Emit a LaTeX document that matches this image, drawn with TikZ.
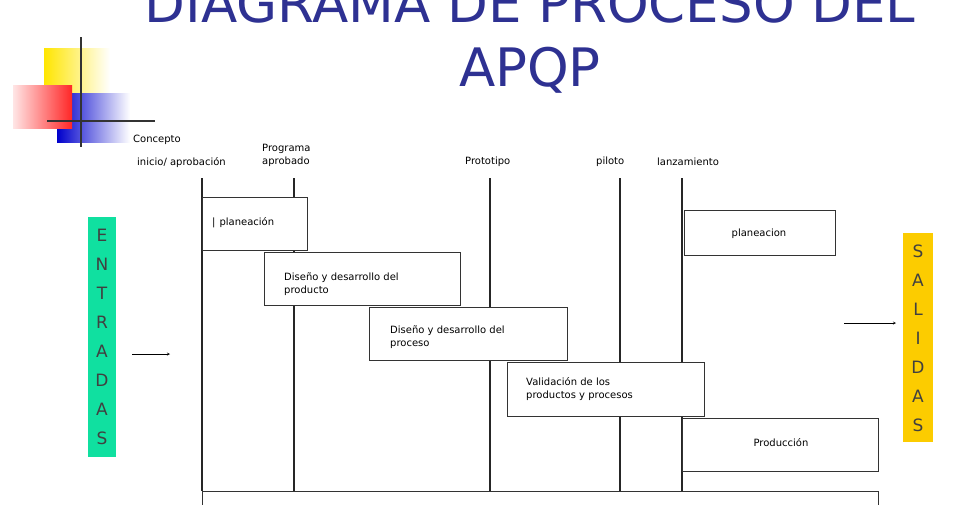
\documentclass[tikz,border=0pt]{standalone}
\usepackage{fontspec}
\setmainfont{DejaVu Sans}
\definecolor{titleblue}{RGB}{46,49,146}
\definecolor{entgreen}{RGB}{16,224,160}
\definecolor{salyellow}{RGB}{252,204,0}
\begin{document}
\begin{tikzpicture}[x=1pt,y=-1pt,
  box/.style={draw=black!80,line width=1pt,fill=white},
  vl/.style={line width=1.6pt,black!85},
  lbl/.style={font=\fontsize{10}{13}\selectfont,anchor=west,align=left,inner sep=0},
  side/.style={font=\fontsize{17}{29}\selectfont,align=center,inner sep=0,text=black!75}]
\useasboundingbox (0,0) rectangle (960,504);
\fill[white] (0,0) rectangle (960,504);
% logo
\shade[left color=yellow!80!orange,right color=white] (44,48) rectangle (110,95);
\shade[left color=blue!80!black,right color=white] (57,93) rectangle (130,142);
\shade[left color=red!10,right color=red!85] (13,85) rectangle (72,128);
\draw[line width=1.5pt,black!80] (81,37) -- (81,147);
\draw[line width=1.5pt,black!80] (47,121) -- (155,121);
% title
\node[text=titleblue,font=\fontsize{53}{60}\selectfont,align=center] (t1) at (530,3) {DIAGRAMA DE PROCESO DEL};
\node[text=titleblue,font=\fontsize{53}{60}\selectfont] (t2) at (530,70) {APQP};
% labels
\node[lbl] (l1) at (133,140) {Concepto};
\node[lbl] (l2) at (137,163) {inicio/ aprobación};
\node[lbl] (l3) at (262,155) {Programa\\aprobado};
\node[lbl] (l4) at (465,162) {Prototipo};
\node[lbl] (l5) at (596,162) {piloto};
\node[lbl] (l6) at (657,162) {lanzamiento};
% verticals
\foreach \x in {202,294,490,620,682}{\draw[vl] (\x,178) -- (\x,491);}
% boxes
\draw[box] (202,197) rectangle (307,250);
\node[lbl] (b1) at (212,223) {|\hspace{4pt}planeación};
\draw[box] (264,252) rectangle (460,305);
\node[lbl] (b2) at (284,284) {Diseño y desarrollo del\\producto};
\draw[box] (369,307) rectangle (567,360);
\node[lbl] (b3) at (390,337) {Diseño y desarrollo del\\proceso};
\draw[box] (507,362) rectangle (704,416);
\node[lbl] (b4) at (526,389) {Validación de los\\productos y procesos};
\draw[box] (682,418) rectangle (878,471);
\node[lbl,anchor=center] (b5) at (781,443) {Producción};
\draw[box] (684,210) rectangle (835,255);
\node[lbl,anchor=center] (b6) at (759,234) {planeacion};
\draw[box] (202,491) rectangle (878,515);
% side boxes
\fill[entgreen] (88,217) rectangle (116,457);
\node[side] (en) at (102,337) {E\\N\\T\\R\\A\\D\\A\\S};
\fill[salyellow] (903,233) rectangle (933,442);
\node[side] (sa) at (918,338) {S\\A\\L\\I\\D\\A\\S};
\coordinate (ea) at (132,354); \coordinate (eb) at (170,354);
\draw[->,>=stealth] (ea) -- (eb);
\coordinate (sa1) at (844,323); \coordinate (sb) at (896,323);
\draw[->,>=stealth] (sa1) -- (sb);
\end{tikzpicture}
\end{document}
